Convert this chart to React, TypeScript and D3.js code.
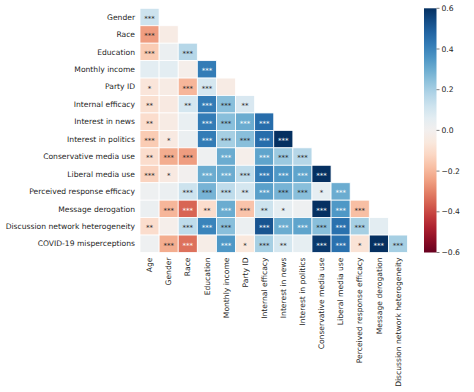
import * as d3 from "d3";

// variables (rows = vars[1..], columns = vars[0..13])
const rowLabels = [
  "Gender", "Race", "Education", "Monthly income", "Party ID", "Internal efficacy",
  "Interest in news", "Interest in politics", "Conservative media use", "Liberal media use",
  "Perceived response efficacy", "Message derogation", "Discussion network heterogeneity",
  "COVID-19 misperceptions",
];
const colLabels = [
  "Age", "Gender", "Race", "Education", "Monthly income", "Party ID", "Internal efficacy",
  "Interest in news", "Interest in politics", "Conservative media use", "Liberal media use",
  "Perceived response efficacy", "Message derogation", "Discussion network heterogeneity",
];

// lower-triangle correlations, one row per rowLabel
const corr = [
  [0.12],
  [-0.25, -0.04],
  [-0.15, 0.03, 0.17],
  [0.06, 0.06, -0.02, 0.42],
  [-0.07, -0.04, -0.2, 0.1, -0.04],
  [-0.09, -0.05, 0.1, 0.42, 0.25, 0.09],
  [-0.1, -0.04, 0.04, 0.42, 0.25, 0.3, 0.46],
  [-0.15, -0.05, 0.03, 0.42, 0.2, 0.25, 0.46, 0.6],
  [-0.1, -0.22, -0.25, 0.02, 0.3, -0.02, 0.32, 0.22, 0.17],
  [-0.13, -0.05, 0.0, 0.3, 0.3, 0.15, 0.42, 0.35, 0.32, 0.6],
  [0.02, 0.03, 0.12, 0.28, 0.15, 0.1, 0.33, 0.28, 0.25, 0.05, 0.3],
  [0.03, -0.2, -0.35, -0.1, 0.3, -0.17, 0.12, 0.05, 0.02, 0.6, 0.35, -0.18],
  [-0.1, -0.02, 0.15, 0.4, 0.25, 0.03, 0.52, 0.3, 0.32, 0.25, 0.45, 0.2, 0.06],
  [0.02, -0.22, -0.33, -0.03, 0.35, -0.06, 0.2, 0.1, 0.05, 0.58, 0.45, -0.08, 0.6, 0.2],
];

const stars = [
  ["***"],
  ["***", ""],
  ["***", "", "***"],
  ["", "", "", "***"],
  ["*", "", "***", "***", ""],
  ["**", "", "**", "***", "***", "**"],
  ["**", "", "", "***", "***", "***", "***"],
  ["***", "*", "", "***", "***", "***", "***", "***"],
  ["**", "***", "***", "", "***", "", "***", "***", "***"],
  ["***", "*", "", "***", "***", "***", "***", "***", "***", "***"],
  ["", "", "***", "***", "***", "**", "***", "***", "***", "*", "***"],
  ["", "***", "***", "**", "***", "***", "**", "*", "", "***", "***", "***"],
  ["**", "", "***", "***", "***", "", "***", "***", "***", "***", "***", "***", ""],
  ["", "***", "***", "", "***", "*", "***", "**", "", "***", "***", "*", "***", "***"],
];

const cbTicks = [-0.6, -0.4, -0.2, 0, 0.2, 0.4, 0.6];

const width = 474;
const height = 392;
const gridLeft = 140;
const gridRight = 407.5;
const gridTop = 8.3;
const gridBottom = 252.5;
const cbLeft = 424;
const cbWidth = 12.5;
const font = "DejaVu Sans, sans-serif";
const textColor = "#262626";

const x = d3.scaleBand<string>().domain(colLabels).range([gridLeft, gridRight]);
const y = d3.scaleBand<string>().domain(rowLabels).range([gridTop, gridBottom]);
const colorT = d3.scaleLinear().domain([-0.6, 0.6]).range([0, 1]).clamp(true);
const color = (v: number) => d3.interpolateRdBu(colorT(v));
const cbY = d3.scaleLinear().domain([-0.6, 0.6]).range([gridBottom, gridTop]);

function annotColor(v: number) {
  const c = d3.rgb(color(v));
  const lin = (u: number) => {
    const s = u / 255;
    return s <= 0.03928 ? s / 12.92 : Math.pow((s + 0.055) / 1.055, 2.4);
  };
  const l = 0.2126 * lin(c.r) + 0.7152 * lin(c.g) + 0.0722 * lin(c.b);
  return l > 0.408 ? textColor : "#ffffff";
}

const fmt = (v: number) => d3.format(".1f")(v).replace("-", "\u2212");

export default function App() {
  const stops = d3.range(0, 1.0001, 0.05);
  return (
    <svg width={width} height={height} style={{ position: "absolute", left: 0, top: 0, background: "#fff" }}
      fontFamily={font}>
      <defs>
        <linearGradient id="cb" x1="0" y1="1" x2="0" y2="0">
          {stops.map((t, i) => (
            <stop key={i} offset={t} stopColor={d3.interpolateRdBu(t)} />
          ))}
        </linearGradient>
      </defs>

      {/* cells */}
      <g>
        {corr.map((row, r) =>
          row.map((v, c) => (
            <g key={`${r}-${c}`}>
              <rect
                x={x(colLabels[c])}
                y={y(rowLabels[r])}
                width={x.bandwidth()}
                height={y.bandwidth()}
                fill={color(v)}
                stroke="#fff"
                strokeWidth={0.8}
              />
              {stars[r][c] && (
                <text
                  x={x(colLabels[c])! + x.bandwidth() / 2}
                  y={y(rowLabels[r])! + y.bandwidth() / 2}
                  dy="0.55em"
                  textAnchor="middle"
                  fontSize={7}
                  fill={annotColor(v)}
                >
                  {stars[r][c]}
                </text>
              )}
            </g>
          ))
        )}
      </g>

      {/* row labels */}
      <g>
        {rowLabels.map((l) => (
          <text key={l} x={gridLeft - 5} y={y(l)! + y.bandwidth() / 2} dy="0.35em"
            textAnchor="end" fontSize={7.6} fill={textColor}>
            {l}
          </text>
        ))}
      </g>

      {/* column labels */}
      <g>
        {colLabels.map((l) => (
          <text key={l}
            transform={`translate(${x(l)! + x.bandwidth() / 2},${gridBottom + 5}) rotate(-90)`}
            dy="0.35em" textAnchor="end" fontSize={7.6} fill={textColor}>
            {l}
          </text>
        ))}
      </g>

      {/* colorbar */}
      <rect x={cbLeft} y={gridTop} width={cbWidth} height={gridBottom - gridTop} fill="url(#cb)" />
      <g>
        {cbTicks.map((t) => (
          <g key={t} transform={`translate(${cbLeft + cbWidth},${cbY(t)})`}>
            <line x1={0} x2={3} stroke={textColor} strokeWidth={0.6} />
            <text x={5} dy="0.35em" fontSize={7.6} fill={textColor}>{fmt(t)}</text>
          </g>
        ))}
      </g>
    </svg>
  );
}
